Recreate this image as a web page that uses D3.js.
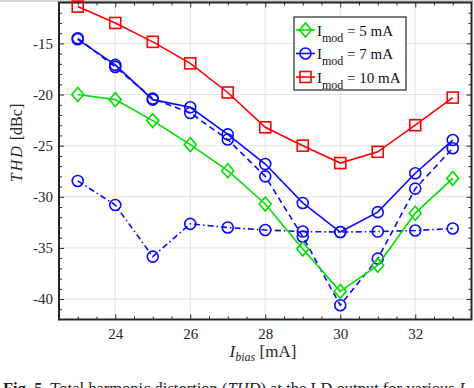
<!DOCTYPE html>
<html>
<head>
<meta charset="utf-8">
<script src="https://cdn.jsdelivr.net/npm/d3@7"></script>
<style>
  body { margin: 0; background: #fff; }
  svg { display: block; font-family: "Liberation Serif", "DejaVu Serif", serif; }
  svg text { font-family: "Liberation Serif", "DejaVu Serif", serif; }
</style>
</head>
<body>
<svg id="chart" width="474" height="388"></svg>
<script>
// bias current [mA]
var ibias = [23, 24, 25, 26, 27, 28, 29, 30, 31, 32, 33];
// THD [dBc] per series
var thd5 = [-20.0, -20.5, -22.55, -24.9, -27.45, -30.7, -35.1, -39.25, -36.7, -31.6, -28.2];
var thd7 = [-14.6, -17.1, -20.5, -21.25, -23.9, -26.8, -30.6, -33.45, -31.5, -27.7, -24.45];
var thd7Dashed = [-14.5, -17.3, -20.4, -21.8, -24.4, -28.0, -33.9, -40.6, -36.05, -29.2, -25.25];
var thd7DashDot = [-28.45, -30.8, -35.85, -32.65, -33.0, -33.25, -33.4, -33.45, -33.4, -33.3, -33.1];
var thd10 = [-11.4, -13.0, -14.85, -16.95, -19.8, -23.2, -25.0, -26.7, -25.6, -23.0, -20.3];

var xMajor = [24, 26, 28, 30, 32];
var yMajor = [-40, -35, -30, -25, -20, -15];
var legendLabels = ['5 mA', '7 mA', '10 mA'];

var green = '#00e000', blue = '#0a0aff', red = '#ff0000', axisColor = '#262626';

var svg = d3.select('#chart');
var plotLeft = 59, plotRight = 471.5, plotTop = 2.5, plotBottom = 319.5;

var x = d3.scaleLinear().domain([22.5, 33.5]).range([plotLeft, plotRight]);
var y = d3.scaleLinear().domain([-42, -11]).range([plotBottom, plotTop]);

// thin frame strip above the plot
svg.append('rect').attr('x', 0).attr('y', 0).attr('width', 474).attr('height', 2)
    .attr('fill', '#d4d4d4');

// grid
var grid = svg.append('g').attr('stroke', '#e3e3e3').attr('stroke-width', 1);
grid.selectAll('.gx').data(xMajor).enter().append('line')
    .attr('x1', function (d) { return x(d); }).attr('x2', function (d) { return x(d); })
    .attr('y1', plotTop).attr('y2', plotBottom);
grid.selectAll('.gy').data(yMajor).enter().append('line')
    .attr('y1', function (d) { return y(d); }).attr('y2', function (d) { return y(d); })
    .attr('x1', plotLeft).attr('x2', plotRight);

// axes, ticks inward on all four sides
var xMinor = d3.range(23, 33.01, 0.5).filter(function (v) { return xMajor.indexOf(v) < 0; });
var yMinor = d3.range(-41, -11, 1).filter(function (v) { return yMajor.indexOf(v) < 0; });

function styleAxis(g) {
    g.attr('font-family', null).attr('font-size', null);
    g.select('.domain').remove();
    g.selectAll('line').attr('stroke', axisColor).attr('stroke-width', 1);
    g.selectAll('text').attr('fill', axisColor).attr('font-size', 15);
}

svg.append('g').attr('transform', 'translate(0,' + plotBottom + ')')
    .call(d3.axisBottom(x).tickValues(xMajor).tickSize(-5).tickPadding(9).tickFormat(d3.format('d')))
    .call(styleAxis);
svg.append('g').attr('transform', 'translate(0,' + plotBottom + ')')
    .call(d3.axisBottom(x).tickValues(xMinor).tickSize(-3).tickFormat(''))
    .call(styleAxis);
svg.append('g').attr('transform', 'translate(0,' + plotTop + ')')
    .call(d3.axisTop(x).tickValues(xMajor).tickSize(-5).tickFormat(''))
    .call(styleAxis);
svg.append('g').attr('transform', 'translate(0,' + plotTop + ')')
    .call(d3.axisTop(x).tickValues(xMinor).tickSize(-3).tickFormat(''))
    .call(styleAxis);
svg.append('g').attr('transform', 'translate(' + plotLeft + ',0)')
    .call(d3.axisLeft(y).tickValues(yMajor).tickSize(-5).tickPadding(6).tickFormat(function (d) { return '-' + Math.abs(d); }))
    .call(styleAxis);
svg.append('g').attr('transform', 'translate(' + plotLeft + ',0)')
    .call(d3.axisLeft(y).tickValues(yMinor).tickSize(-3).tickFormat(''))
    .call(styleAxis);
svg.append('g').attr('transform', 'translate(' + plotRight + ',0)')
    .call(d3.axisRight(y).tickValues(yMajor).tickSize(-5).tickFormat(''))
    .call(styleAxis);
svg.append('g').attr('transform', 'translate(' + plotRight + ',0)')
    .call(d3.axisRight(y).tickValues(yMinor).tickSize(-3).tickFormat(''))
    .call(styleAxis);

// box
svg.append('rect').attr('x', plotLeft).attr('y', plotTop)
    .attr('width', plotRight - plotLeft).attr('height', plotBottom - plotTop)
    .attr('fill', 'none').attr('stroke', axisColor).attr('stroke-width', 2);

// series
var line = d3.line()
    .x(function (d) { return x(d[0]); })
    .y(function (d) { return y(d[1]); });

function marker(g, shape, color) {
    if (shape === 'circle') {
        g.append('circle').attr('r', 5.5);
    } else if (shape === 'square') {
        g.append('rect').attr('x', -5.5).attr('y', -5.5).attr('width', 11).attr('height', 11);
    } else {
        g.append('path').attr('d', 'M0,-7L6,0L0,7L-6,0Z');
    }
    g.selectAll('*').attr('fill', 'none').attr('stroke', color).attr('stroke-width', 1.6);
}

function drawSeries(values, color, shape, dash) {
    var pts = ibias.map(function (v, i) { return [v, values[i]]; });
    var g = svg.append('g');
    g.append('path').datum(pts).attr('d', line)
        .attr('fill', 'none').attr('stroke', color).attr('stroke-width', 1.6)
        .attr('stroke-dasharray', dash || null);
    g.selectAll('.m').data(pts).enter().append('g')
        .attr('transform', function (d) { return 'translate(' + x(d[0]) + ',' + y(d[1]) + ')'; })
        .each(function () { marker(d3.select(this), shape, color); });
}

drawSeries(thd7DashDot, blue, 'circle', '6,3,1.5,3');
drawSeries(thd7Dashed, blue, 'circle', '6,4');
drawSeries(thd5, green, 'diamond');
drawSeries(thd7, blue, 'circle');
drawSeries(thd10, red, 'square');

// legend
var leg = svg.append('g');
leg.append('rect').attr('x', 294).attr('y', 17).attr('width', 112).attr('height', 73)
    .attr('fill', '#fff').attr('stroke', axisColor).attr('stroke-width', 1.2);
var legShapes = ['diamond', 'circle', 'square'];
var legColors = [green, blue, red];
legendLabels.forEach(function (lab, i) {
    var cy = 30 + i * 23.5;
    var row = leg.append('g');
    row.append('line').attr('x1', 296).attr('x2', 315).attr('y1', cy).attr('y2', cy)
        .attr('stroke', legColors[i]).attr('stroke-width', 1.6);
    var m = row.append('g').attr('transform', 'translate(305.5,' + cy + ')');
    marker(m, legShapes[i], legColors[i]);
    var t = row.append('text').attr('x', 317).attr('y', cy + 5.5)
        .attr('font-size', 15).attr('fill', '#111');
    t.append('tspan').text('I');
    t.append('tspan').attr('dy', 6).attr('font-size', 12).text('mod');
    t.append('tspan').attr('dy', -6).text(' = ' + lab);
});

// axis labels
var yl = svg.append('text')
    .attr('transform', 'translate(22,143) rotate(-90)')
    .attr('text-anchor', 'middle').attr('font-size', 16).attr('fill', axisColor);
yl.append('tspan').attr('font-style', 'italic').attr('letter-spacing', 2).text('THD');
yl.append('tspan').text(' [dBc]');

var xl = svg.append('text').attr('x', 263).attr('y', 357)
    .attr('text-anchor', 'middle').attr('font-size', 17).attr('fill', axisColor);
xl.append('tspan').attr('font-style', 'italic').text('I');
xl.append('tspan').attr('font-style', 'italic').attr('font-size', 12).attr('dy', 4).text('bias');
xl.append('tspan').attr('dy', -4).text('  [mA]');

// caption, cut by the bottom edge
var cap = svg.append('text').attr('x', 3).attr('y', 394).attr('font-size', 16.5).attr('fill', '#222');
cap.append('tspan').attr('font-weight', 'bold').text('Fig. 5.');
cap.append('tspan').text('  Total harmonic distortion (');
cap.append('tspan').attr('font-style', 'italic').text('THD');
cap.append('tspan').text(') at the LD output for various ');
cap.append('tspan').attr('font-style', 'italic').text('I');
</script>
</body>
</html>
